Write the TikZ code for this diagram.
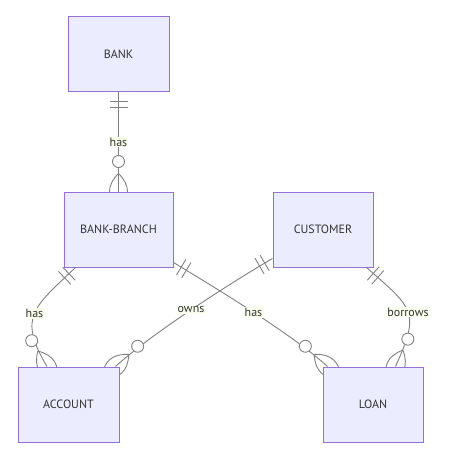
\documentclass[tikz,border=0pt]{standalone}
\usepackage{fontspec}
\setmainfont{PT Sans}
\usetikzlibrary{calc}
\pgfdeclarelayer{bg}
\pgfsetlayers{bg,main}
\definecolor{boxfill}{HTML}{ECECFF}
\definecolor{boxline}{HTML}{9370DB}
\definecolor{relline}{HTML}{808080}
\definecolor{txt}{HTML}{333333}
\definecolor{lblbg}{HTML}{F9FFEC}
% only-one marker: #1 = end point on box, #2 = point along the line
\newcommand\eronlyone[2]{%
  \draw[rel] ($(#1)!12.73pt!45:(#2)$) -- ($(#1)!12.73pt!-45:(#2)$);
  \draw[rel] ($(#1)!17.49pt!30.96:(#2)$) -- ($(#1)!17.49pt!-30.96:(#2)$);}
% zero-or-more marker
\newcommand\erzeromany[2]{%
  \draw[rel] ($(#1)!18pt!(#2)$) .. controls ($(#1)!13.42pt!63.43:(#2)$) and ($(#1)!13.42pt!116.57:(#2)$) .. ($(#1)!18pt!180:(#2)$)
    .. controls ($(#1)!13.42pt!-116.57:(#2)$) and ($(#1)!13.42pt!-63.43:(#2)$) .. ($(#1)!18pt!(#2)$);
  \draw[rel, fill=white] ($(#1)!30pt!(#2)$) circle (6);}
\begin{document}
\begin{tikzpicture}[x=1pt,y=-1pt,
  entity/.style={draw=boxline, fill=boxfill, line width=1pt, minimum height=75pt, inner sep=0pt, text=txt, font=\fontsize{12}{14}\selectfont},
  rel/.style={draw=relline, line width=0.9pt},
  lbl/.style={fill=lblbg, inner sep=1pt, text=txt, font=\fontsize{12}{14}\selectfont}]
\useasboundingbox (0,0) rectangle (449,462);
\node[entity, minimum width=101pt] (bank) at (118.5,54.5) {BANK};
\node[entity, minimum width=109pt] (bb) at (118.5,229.5) {BANK-BRANCH};
\node[entity, minimum width=100pt] (cust) at (323,229.5) {CUSTOMER};
\node[entity, minimum width=101pt] (acc) at (68.5,404.5) {ACCOUNT};
\node[entity, minimum width=100pt] (loan) at (373,404.5) {LOAN};
% end points and control points
\coordinate (e2s) at ($(bb.south west)+(12,0)$);
\coordinate (e2e) at ($(acc.north west)+(29.5,0)$);
\coordinate (c2a) at ($(e2s)+(-41.8,40)$);
\coordinate (c2b) at ($(e2e)+(-29.6,-49.9)$);
\coordinate (e3s) at ($(cust.south west)+(0,-9)$);
\coordinate (e3e) at ($(acc.north east)+(-4,0)$);
\coordinate (c3a) at ($(e3s)+(-43,25)$);
\coordinate (c3b) at ($(e3e)+(35,-32)$);
\coordinate (e4s) at ($(bb.south east)+(0,-5)$);
\coordinate (e4e) at ($(loan.north west)+(5,0)$);
\coordinate (c4a) at ($(e4s)+(43,26)$);
\coordinate (c4b) at ($(e4e)+(-35,-32)$);
\coordinate (e5s) at ($(cust.south east)+(-7,0)$);
\coordinate (e5e) at ($(loan.north west)+(73,0)$);
\coordinate (c5a) at ($(e5s)+(47.3,41.6)$);
\coordinate (c5b) at ($(e5e)+(24.8,-55)$);
\begin{pgfonlayer}{bg}
\draw[rel] (bank.south) -- node[lbl] {has} (bb.north);
\draw[rel] (e2s) .. controls (c2a) and (c2b) .. node[lbl] {has} (e2e);
\draw[rel] (e3s) .. controls (c3a) and (c3b) .. node[lbl] {owns} (e3e);
\draw[rel] (e4s) .. controls (c4a) and (c4b) .. node[lbl] {has} (e4e);
\draw[rel] (e5s) .. controls (c5a) and (c5b) .. node[lbl] {borrows} (e5e);
\eronlyone{bank.south}{bb.north}
\erzeromany{bb.north}{bank.south}
\eronlyone{e2s}{c2a}
\erzeromany{e2e}{c2b}
\eronlyone{e3s}{c3a}
\erzeromany{e3e}{c3b}
\eronlyone{e4s}{c4a}
\erzeromany{e4e}{c4b}
\eronlyone{e5s}{c5a}
\erzeromany{e5e}{c5b}
\end{pgfonlayer}
\end{tikzpicture}
\end{document}
